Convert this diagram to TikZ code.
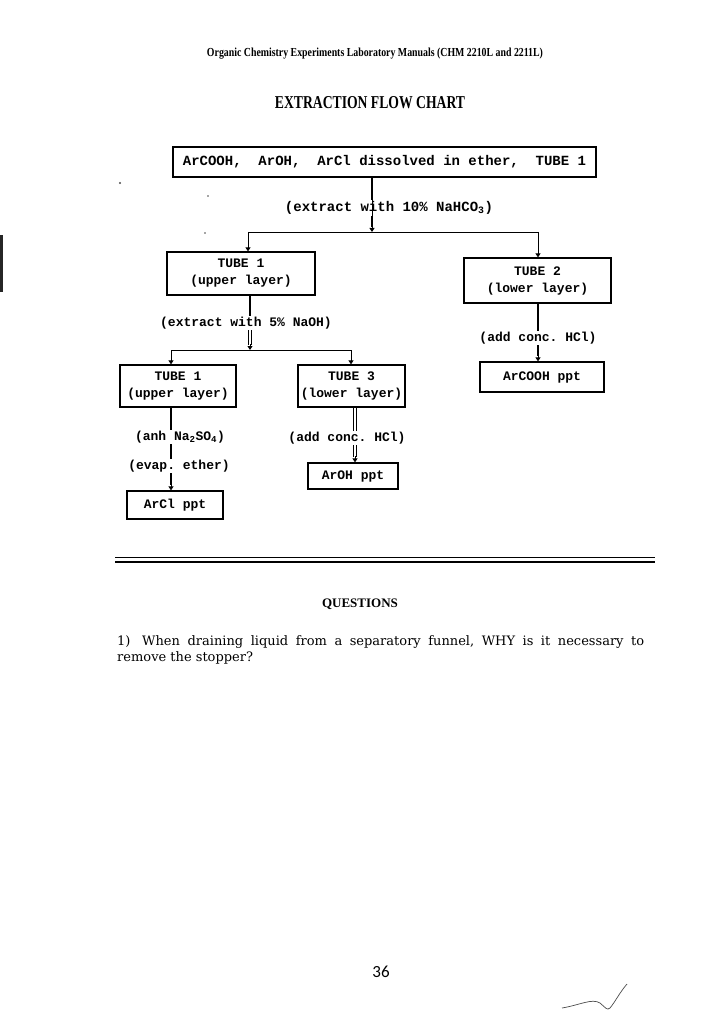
\documentclass[tikz,border=0pt]{standalone}
\usepackage{fontspec}
\usepackage{graphicx}
\setmainfont{Liberation Serif}
\newfontfamily\monof{Liberation Mono}
\newfontfamily\numf{Carlito}
\newfontfamily\qf{DejaVu Serif}
\usetikzlibrary{arrows.meta}
\frenchspacing
\begin{document}
\begin{tikzpicture}[x=1pt,y=-1pt,
  box/.style={draw, line width=1.3pt, inner sep=0pt, align=center,
    font=\monof\bfseries\fontsize{13}{17}\selectfont},
  lbl/.style={inner sep=1pt, font=\monof\bfseries\fontsize{13}{15}\selectfont},
  heavy/.style={line width=2.6pt},
  thinl/.style={line width=0.9pt},
  dblL/.style={line width=0.9pt, transform canvas={xshift=-1.1pt}},
  dblR/.style={line width=0.9pt, transform canvas={xshift=1.1pt}},
  tip/.style={-{Triangle[length=4pt,width=5pt]}},
  speck/.style={fill=black!70}
]
\useasboundingbox (0,0) rectangle (718,1024);
\fill[white] (0,0) rectangle (718,1024);
% scan marks
\fill[black!85] (0,235) rectangle (2.5,292);
\fill[speck] (120,183) circle (1.1);
\fill[speck] (208,196) circle (0.9);
\fill[speck] (205,233) circle (0.9);

% headings
\node (hdr) at (375,54) {\resizebox{336pt}{8.5pt}{\bfseries Organic Chemistry Experiments Laboratory Manuals (CHM 2210L and 2211L)}};
\node (ttl) at (370,103) {\resizebox{190pt}{12pt}{\bfseries EXTRACTION FLOW CHART}};

% coordinates for connector columns
\coordinate (s1) at (372,232);
\coordinate (sL) at (248,232);
\coordinate (sR) at (538,232);
\coordinate (s2) at (250,350);
\coordinate (s2L) at (171,350);
\coordinate (s2R) at (351,350);
\coordinate (xa) at (171,0);
\coordinate (xh) at (355,0);

% boxes
\node[box, minimum width=423pt, minimum height=30pt, font=\monof\bfseries\fontsize{14}{16}\selectfont] (b1) at (384.5,162)
  {ArCOOH,~ ArOH,~ ArCl dissolved in ether,~ TUBE 1};
\node[box, minimum width=148pt, minimum height=43pt] (t1a) at (241,273.5) {TUBE 1\\(upper layer)};
\node[box, minimum width=147pt, minimum height=45pt] (t2) at (537.5,280.5) {TUBE 2\\(lower layer)};
\node[box, minimum width=124pt, minimum height=30pt] (acooh) at (542,377) {ArCOOH ppt};
\node[box, minimum width=116pt, minimum height=42pt] (t1b) at (178,386) {TUBE 1\\(upper layer)};
\node[box, minimum width=107pt, minimum height=42pt] (t3) at (351.5,386) {TUBE 3\\(lower layer)};
\node[box, minimum width=96pt, minimum height=28pt] (arcl) at (175,505) {ArCl ppt};
\node[box, minimum width=90pt, minimum height=26pt] (aroh) at (353,476) {ArOH ppt};

% labels
\node[lbl, font=\monof\bfseries\fontsize{14}{16}\selectfont] (l1) at (389,208) {(extract with 10\% NaHCO\textsubscript{3})};
\node[lbl] (l2) at (246,323) {(extract with 5\% NaOH)};
\node[lbl] (r1) at (538,338) {(add conc. HCl)};
\node[lbl] (la) at (180,437) {(anh Na\textsubscript{2}SO\textsubscript{4})};
\node[lbl] (le) at (179,466) {(evap. ether)};
\node[lbl] (lh) at (347,438) {(add conc. HCl)};

% first split
\draw[heavy] (b1.south -| s1) -- (l1.north -| s1);
\draw[thinl] (l1.north -| s1) -- (l1.south -| s1);
\draw[heavy] (l1.south -| s1) -- ([yshift=5pt]s1);
\draw[thinl, tip] ([yshift=6pt]s1) -- (s1);
\draw[thinl] (sL) -- (sR);
\draw[thinl, tip] (sL) -- (t1a.north -| sL);
\draw[thinl, tip] (sR) -- (t2.north -| sR);

% tube 2 branch
\draw[heavy] (t2.south -| sR) -- (r1.north -| sR);
\draw[heavy] (r1.south -| sR) -- ([yshift=5pt]acooh.north -| sR);
\draw[thinl, tip] ([yshift=6pt]acooh.north -| sR) -- (acooh.north -| sR);

% second split
\draw[heavy] (t1a.south -| s2) -- (l2.north -| s2);
\draw[dblL] (l2.south -| s2) -- ([yshift=5pt]s2);
\draw[dblR] (l2.south -| s2) -- ([yshift=5pt]s2);
\draw[thinl, tip] ([yshift=6pt]s2) -- (s2);
\draw[thinl] (s2L) -- (s2R);
\draw[thinl, tip] (s2L) -- (t1b.north -| s2L);
\draw[thinl, tip] (s2R) -- (t3.north -| s2R);

% tube 1 (upper) branch
\draw[heavy] (t1b.south -| xa) -- (la.north -| xa);
\draw[heavy] (la.south -| xa) -- (le.north -| xa);
\draw[heavy] (le.south -| xa) -- ([yshift=5pt]arcl.north -| xa);
\draw[thinl, tip] ([yshift=6pt]arcl.north -| xa) -- (arcl.north -| xa);

% tube 3 branch
\draw[dblL] (t3.south -| xh) -- (lh.north -| xh);
\draw[dblR] (t3.south -| xh) -- (lh.north -| xh);
\draw[dblL] (lh.south -| xh) -- ([yshift=5pt]aroh.north -| xh);
\draw[dblR] (lh.south -| xh) -- ([yshift=5pt]aroh.north -| xh);
\draw[thinl, tip] ([yshift=6pt]aroh.north -| xh) -- (aroh.north -| xh);

% double rule
\draw[line width=1pt] (115,557) -- (655,557);
\draw[line width=2pt] (115,562) -- (655,562);

% questions
\node[font=\bfseries\fontsize{13}{15}\selectfont] (q) at (360,604) {QUESTIONS};
\node[anchor=base west, inner sep=0pt, font=\qf\fontsize{13}{16}\selectfont] (q1) at (117,645)
  {\makebox[527pt][s]{1)\hspace{0.9em}When draining liquid from a separatory funnel, WHY is it necessary to}};
\node[anchor=base west, inner sep=0pt, font=\qf\fontsize{13}{16}\selectfont] (q2) at (117,661)
  {remove the stopper?};

% page number
\node[font=\numf\fontsize{17}{19}\selectfont] (pg) at (381,972) {36};

% pencil mark
\draw[black!70, line width=0.7pt] (562,1008) .. controls (580,1005) and (592,998) .. (600,1003)
  .. controls (605,1007) and (607,1011) .. (610,1008) .. controls (615,1002) and (620,992) .. (627,984);
\end{tikzpicture}
\end{document}
